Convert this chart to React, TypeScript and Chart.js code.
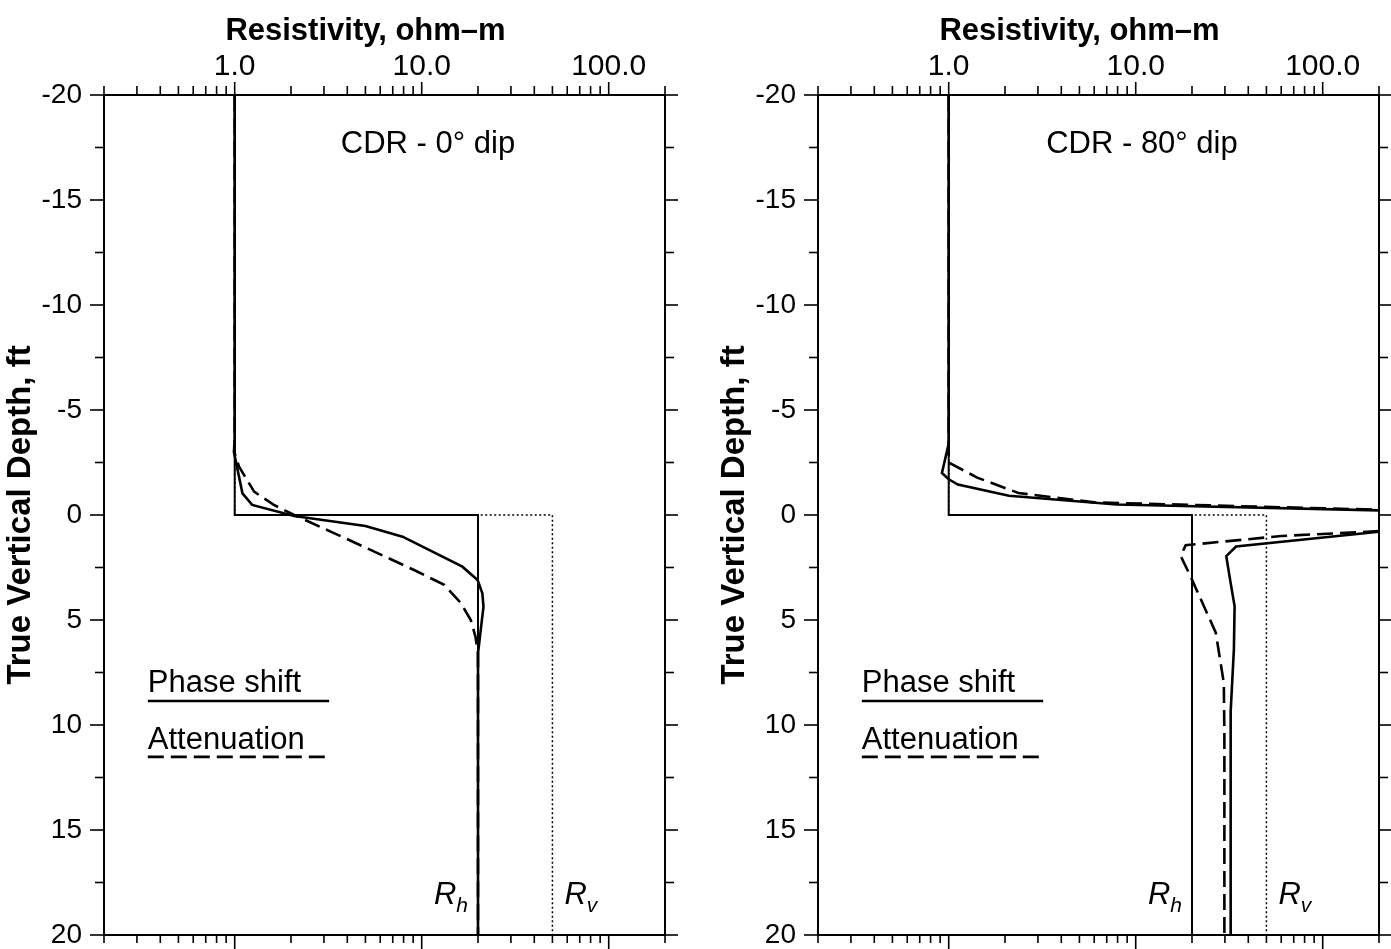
import React, { useEffect, useRef } from 'react';
import { Chart, registerables } from 'chart.js';

Chart.register(...registerables);

const FONT = '"Liberation Sans", Arial, Helvetica, sans-serif';

// Axis limits and labelled ticks
const depthRange = [-20, 20];
const resistivityRange = [0.2, 200];
const depthTicks = [-20, -15, -10, -5, 0, 5, 10, 15, 20];
const resistivityTicks = [1, 10, 100];
const resistivityTickLabels = ['1.0', '10.0', '100.0'];

// Formation model: shoulder bed over an anisotropic bed (Rh / Rv)
const modelDepth = [-20, 0, 0, 20];
const modelRh = [1, 1, 20, 20];
const modelRv = [1, 1, 50, 50];

// CDR response, 0° dip
const phase0Depth = [-20, -3.6, -3.0, -1.03, -0.48, 0.05, 0.52, 1.03, 2.46, 3.1, 3.73, 4.37, 5.6, 6.6, 20];
const phase0Res = [1, 1, 0.99, 1.1, 1.24, 2.08, 5.0, 7.9, 16.5, 19.9, 21.1, 21.4, 20.6, 20, 20];
const atten0Depth = [-20, -2.94, -2.3, -1.11, -0.48, 0, 0.79, 1.59, 2.62, 3.33, 4.2, 5.0, 5.8, 6.6, 20];
const atten0Res = [1, 1, 1.055, 1.27, 1.62, 2.08, 3.26, 5.12, 9.1, 13.2, 16.2, 18.3, 19.4, 20, 20];

// CDR response, 80° dip (horns run off the 200 ohm-m scale at the boundary)
const phase80UpperDepth = [-20, -3.4, -2.0, -1.7, -1.45, -0.92, -0.5, -0.22];
const phase80UpperRes = [1, 1, 0.92, 1.0, 1.12, 2.1, 7.9, 200];
const phase80LowerDepth = [0.8, 1.5, 1.96, 3.1, 4.35, 6.4, 9.35, 20];
const phase80LowerRes = [200, 34.4, 30.5, 32.0, 33.8, 33.5, 32.2, 32.2];
const atten80UpperDepth = [-20, -2.5, -2.4, -1.78, -1.05, -0.6, -0.25];
const atten80UpperRes = [1, 1, 1.05, 1.42, 2.36, 6.0, 200];
const atten80LowerDepth = [0.77, 1.0, 1.44, 1.95, 2.95, 5.6, 8.0, 10.5, 20];
const atten80LowerRes = [200, 60, 18.5, 17.4, 19.7, 26.8, 29.6, 29.8, 29.8];

const points = (res: number[], depth: number[]) => res.map((r, i) => ({ x: r, y: depth[i] }));

type Style = 'phase' | 'atten' | 'rh' | 'rv';

const curve = (res: number[], depth: number[], style: Style) => ({
  data: points(res, depth),
  showLine: true,
  pointRadius: 0,
  pointHoverRadius: 0,
  borderColor: '#000',
  backgroundColor: '#000',
  fill: false,
  tension: 0,
  borderWidth: style === 'rv' ? 1.5 : style === 'rh' ? 2 : 2.6,
  borderDash: style === 'atten' ? [16, 7] : style === 'rv' ? [2, 2.5] : [],
});

interface PanelProps {
  label: string;
  datasets: any[];
  left: number;
  width: number;
  padRight: number;
}

function Panel({ label, datasets, left, width, padRight }: PanelProps) {
  const ref = useRef<HTMLCanvasElement | null>(null);

  useEffect(() => {
    if (!ref.current) return;

    const decorations = {
      id: 'decorations',
      afterDraw(chart: any) {
        const { ctx, chartArea: a } = chart;
        const xs = chart.scales.x;
        const ys = chart.scales.y;
        const seg = (x1: number, y1: number, x2: number, y2: number) => {
          ctx.beginPath();
          ctx.moveTo(x1, y1);
          ctx.lineTo(x2, y2);
          ctx.stroke();
        };
        ctx.save();
        ctx.strokeStyle = '#000';
        ctx.fillStyle = '#000';
        ctx.setLineDash([]);

        // frame
        ctx.lineWidth = 2;
        ctx.strokeRect(a.left, a.top, a.right - a.left, a.bottom - a.top);

        // log tick marks, top and bottom
        ctx.lineWidth = 1.6;
        for (let e = -1; e <= 2; e++) {
          for (let m = 1; m <= 9; m++) {
            const v = m * Math.pow(10, e);
            if (v < resistivityRange[0] - 1e-9 || v > resistivityRange[1] + 1e-9) continue;
            const px = xs.getPixelForValue(v);
            const major = m === 1;
            seg(px, a.top, px, a.top - (major ? 13 : 9));
            seg(px, a.bottom, px, a.bottom + (major ? 14 : 8));
          }
        }

        // depth tick marks, left and right
        for (let d = depthRange[0]; d <= depthRange[1]; d += 2.5) {
          const py = ys.getPixelForValue(d);
          const major = d % 5 === 0;
          seg(a.left - (major ? 14 : 9), py, a.left, py);
          seg(a.right, py, a.right + (major ? 13 : 9), py);
        }

        // resistivity axis title
        ctx.font = `bold 31px ${FONT}`;
        ctx.textAlign = 'center';
        ctx.textBaseline = 'alphabetic';
        ctx.fillText('Resistivity, ohm–m', (a.left + a.right) / 2 - 19, 40);

        // panel caption
        ctx.font = `31px ${FONT}`;
        ctx.fillText(label, xs.getPixelForValue(10.8), ys.getPixelForValue(-17.25));

        // key
        const kx0 = xs.getPixelForValue(0.343);
        const kx1 = xs.getPixelForValue(3.2);
        ctx.textAlign = 'left';
        ctx.fillText('Phase shift', kx0, ys.getPixelForValue(8.45));
        ctx.fillText('Attenuation', kx0, ys.getPixelForValue(11.16));
        ctx.lineWidth = 2.6;
        seg(kx0, ys.getPixelForValue(8.86), kx1, ys.getPixelForValue(8.86));
        ctx.setLineDash([16, 7]);
        seg(kx0, ys.getPixelForValue(11.52), kx1, ys.getPixelForValue(11.52));
        ctx.setLineDash([]);

        // Rh / Rv labels
        const base = ys.getPixelForValue(18.52);
        const drawR = (sub: string, anchor: number, alignRight: boolean) => {
          ctx.font = `italic 31px ${FONT}`;
          const wR = ctx.measureText('R').width;
          ctx.font = `italic 21px ${FONT}`;
          const wS = ctx.measureText(sub).width;
          const x0 = alignRight ? anchor - wR - wS : anchor;
          ctx.font = `italic 31px ${FONT}`;
          ctx.fillText('R', x0, base);
          ctx.font = `italic 21px ${FONT}`;
          ctx.fillText(sub, x0 + wR, base + 8);
        };
        drawR('h', xs.getPixelForValue(modelRh[3]) - 10, true);
        drawR('v', xs.getPixelForValue(modelRv[3]) + 12, false);

        ctx.restore();
      },
    };

    const chart = new Chart(ref.current, {
      type: 'scatter',
      data: { datasets },
      options: {
        animation: false,
        responsive: false,
        events: [],
        layout: { autoPadding: false, padding: { left: 0, top: 0, right: padRight, bottom: 14 } },
        plugins: {
          legend: { display: false },
          tooltip: { enabled: false },
        },
        scales: {
          x: {
            type: 'logarithmic',
            position: 'top',
            min: resistivityRange[0],
            max: resistivityRange[1],
            grid: { display: false, drawTicks: false },
            border: { display: false },
            afterBuildTicks: (s: any) => {
              s.ticks = resistivityTicks.map((v) => ({ value: v }));
            },
            afterFit: (s: any) => {
              s.height = 95;
              s.paddingLeft = 0;
              s.paddingRight = 0;
              s.paddingTop = 0;
              s.paddingBottom = 0;
            },
            ticks: {
              autoSkip: false,
              maxRotation: 0,
              padding: 10,
              color: '#000',
              font: { family: FONT, size: 30 },
              callback: (_v: any, i: number) => resistivityTickLabels[i],
            },
            title: { display: false },
          },
          y: {
            type: 'linear',
            position: 'left',
            reverse: true,
            min: depthRange[0],
            max: depthRange[1],
            grid: { display: false, drawTicks: false },
            border: { display: false },
            afterBuildTicks: (s: any) => {
              s.ticks = depthTicks.map((v) => ({ value: v }));
            },
            afterFit: (s: any) => {
              s.width = 104;
              s.paddingLeft = 0;
              s.paddingRight = 0;
              s.paddingTop = 0;
              s.paddingBottom = 0;
            },
            ticks: {
              autoSkip: false,
              padding: 22,
              color: '#000',
              font: { family: FONT, size: 28 },
              callback: (v: any) => String(v),
            },
            title: {
              display: true,
              text: 'True Vertical Depth, ft',
              color: '#000',
              font: { family: FONT, size: 33, weight: 'bold' },
              padding: { top: 1, bottom: 0 },
            },
          },
        },
      } as any,
      plugins: [decorations],
    });

    return () => chart.destroy();
  }, [label, datasets, padRight]);

  return (
    <canvas
      ref={ref}
      width={width}
      height={949}
      style={{ position: 'absolute', left, top: 0, width, height: 949 }}
    />
  );
}

const dip0Datasets = [
  curve(modelRv, modelDepth, 'rv'),
  curve(modelRh, modelDepth, 'rh'),
  curve(atten0Res, atten0Depth, 'atten'),
  curve(phase0Res, phase0Depth, 'phase'),
];

const dip80Datasets = [
  curve(modelRv, modelDepth, 'rv'),
  curve(modelRh, modelDepth, 'rh'),
  curve(atten80UpperRes, atten80UpperDepth, 'atten'),
  curve(atten80LowerRes, atten80LowerDepth, 'atten'),
  curve(phase80UpperRes, phase80UpperDepth, 'phase'),
  curve(phase80LowerRes, phase80LowerDepth, 'phase'),
];

export default function App() {
  return (
    <div style={{ position: 'absolute', left: 0, top: 0, width: 1391, height: 949, background: '#fff', overflow: 'hidden' }}>
      <Panel label="CDR - 0° dip" datasets={dip0Datasets} left={0} width={700} padRight={35} />
      <Panel label="CDR - 80° dip" datasets={dip80Datasets} left={714} width={677} padRight={12} />
    </div>
  );
}
